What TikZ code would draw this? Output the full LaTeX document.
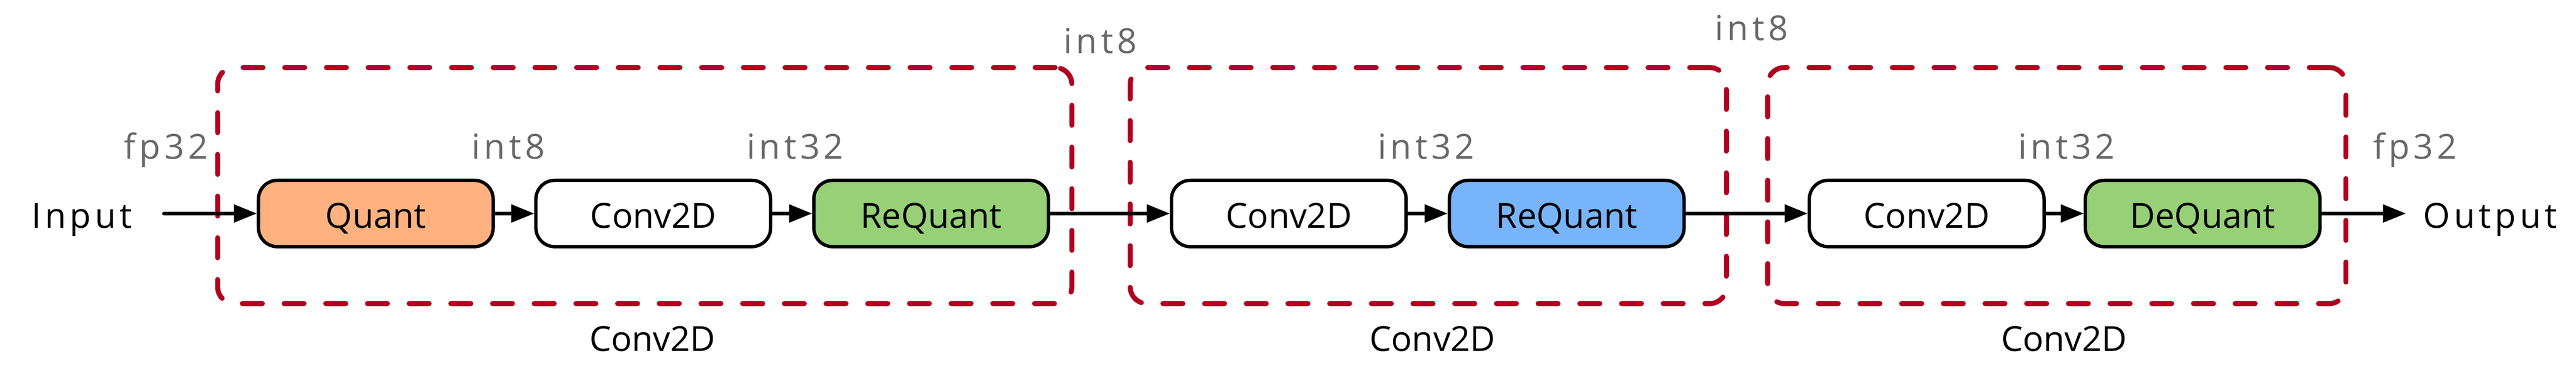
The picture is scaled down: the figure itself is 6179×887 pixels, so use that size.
\documentclass[tikz,border=0pt]{standalone}
\usepackage{fontspec}
\setmainfont{Open Sans}
\newfontfamily\spaced[LetterSpace=11]{Open Sans}
\usetikzlibrary{arrows.meta}
\definecolor{qorange}{RGB}{255,178,128}
\definecolor{qgreen}{RGB}{151,208,119}
\definecolor{qblue}{RGB}{120,180,250}
\definecolor{qred}{RGB}{178,0,32}
\definecolor{qgrey}{RGB}{104,104,104}
\begin{document}
\begin{tikzpicture}[x=0.25pt,y=-0.25pt,
  every node/.style={font=\fontsize{20.7}{25}\selectfont},
  opbox/.style={draw=black,line width=2pt,rounded corners=11.25pt,
    minimum width=140.75pt,minimum height=39.75pt,inner sep=0pt,
    text height=17.5pt,text depth=0pt},
  group/.style={draw=qred,line width=3pt,rounded corners=10pt,
    dash pattern=on 12pt off 13pt,line cap=round,inner sep=0pt},
  dtype/.style={text=qgrey,anchor=base,inner sep=0pt,
    font=\fontsize{20.7}{25}\selectfont\spaced},
  io/.style={anchor=base,inner sep=0pt,font=\fontsize{20.7}{25}\selectfont\spaced},
  grouplabel/.style={anchor=base,inner sep=0pt},
  flow/.style={line width=2pt,line cap=round,-{Triangle[length=13.75pt,width=10.5pt]}}
]
\useasboundingbox (0,0) rectangle (6179,887);

% groups
\node[group,minimum width=512.25pt,minimum height=141.5pt] (g1) at (1546.5,445) {};
\node[group,minimum width=357.5pt,minimum height=141.5pt] (g2) at (3426,445) {};
\node[group,minimum width=346.75pt,minimum height=141.5pt] (g3) at (4933.5,445) {};

% operation boxes
\node[opbox,fill=qorange] (quant) at (901.5,512) {Quant};
\node[opbox,fill=white] (conv1) at (1567,512) {Conv2D};
\node[opbox,fill=qgreen] (req1) at (2233.5,512) {ReQuant};
\node[opbox,fill=white] (conv2) at (3091.5,512) {Conv2D};
\node[opbox,fill=qblue] (req2) at (3758,512) {ReQuant};
\node[opbox,fill=white] (conv3) at (4621.5,512) {Conv2D};
\node[opbox,fill=qgreen] (deq) at (5283.5,512) {DeQuant};

% input/output
\node[io] (inp) at (196,547) {Input};
\node[io] (outp) at (5973,547) {Output};

% group labels
\node[grouplabel] (l1) at (1565,842) {Conv2D};
\node[grouplabel] (l2) at (3436,842) {Conv2D};
\node[grouplabel] (l3) at (4951,842) {Conv2D};

% data type labels
\node[dtype] (t1) at (398,381) {fp32};
\node[dtype] (t2) at (1219,381) {int8};
\node[dtype] (t3) at (1907,381) {int32};
\node[dtype] (t4) at (2639,128) {int8};
\node[dtype] (t5) at (3421,381) {int32};
\node[dtype] (t6) at (4201,97) {int8};
\node[dtype] (t7) at (4957,381) {int32};
\node[dtype] (t8) at (5793,381) {fp32};

% connectors
\coordinate (instart) at (393,512);
\coordinate (outend) at (5771,512);
\draw[flow] (instart) -- (quant.west);
\draw[flow] (quant) -- (conv1);
\draw[flow] (conv1) -- (req1);
\draw[flow] (req1) -- (conv2);
\draw[flow] (conv2) -- (req2);
\draw[flow] (req2) -- (conv3);
\draw[flow] (conv3) -- (deq);
\draw[flow] (deq.east) -- (outend);
\end{tikzpicture}
\end{document}
